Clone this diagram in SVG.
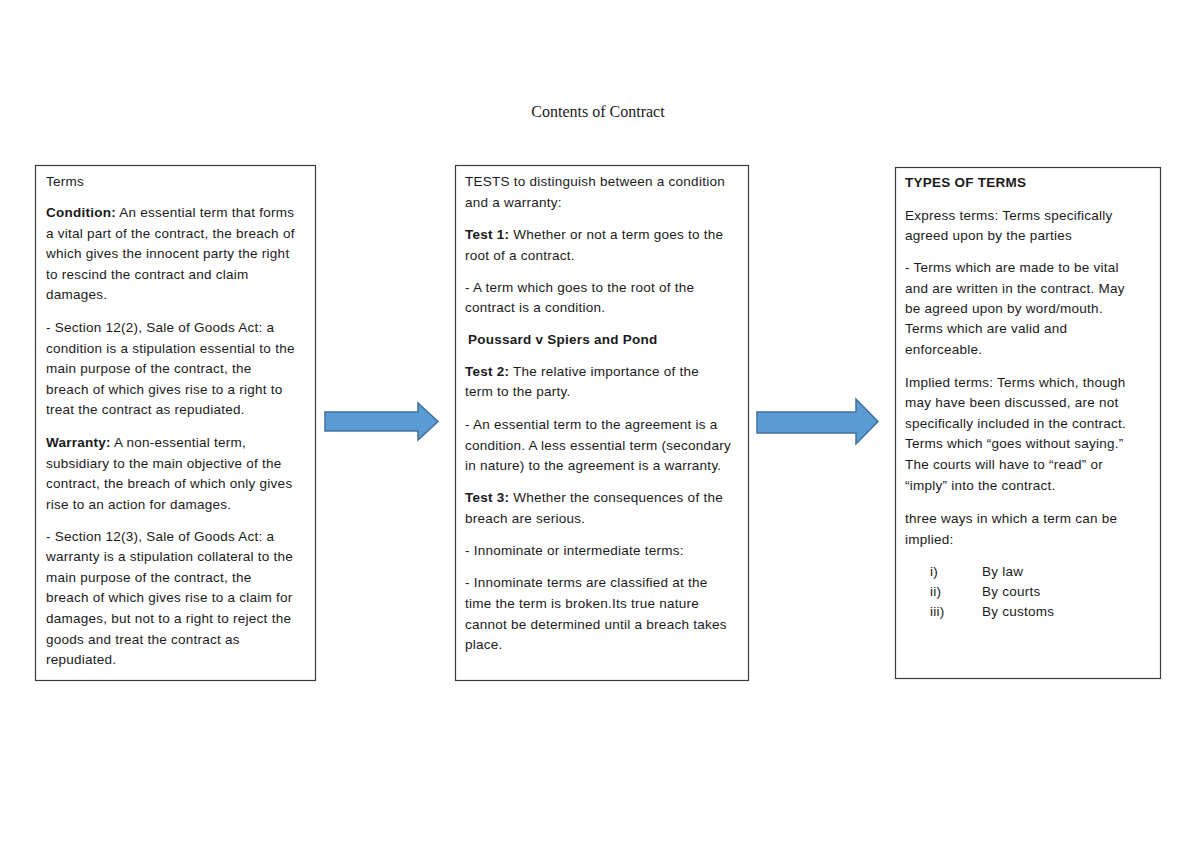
<svg xmlns="http://www.w3.org/2000/svg" width="1200" height="848" viewBox="0 0 1200 848">
<style>
.box{fill:#fff;stroke:#3a3a3a;stroke-width:1.2}
.t{font-family:"Liberation Sans",Arial,sans-serif;font-size:13.5px;letter-spacing:0.25px;fill:#1a1a1a}
.b{font-weight:bold}
.title{font-family:"Liberation Serif","Times New Roman",serif;font-size:16px;fill:#1a1a1a}
.arr{fill:#5B9BD5;stroke:#41719C;stroke-width:1.5}
</style>
<rect width="1200" height="848" fill="#fff"/>
<text class="title" x="598" y="117" text-anchor="middle">Contents of Contract</text>

<g id="terms">
<rect class="box" x="35.5" y="165.5" width="280" height="515"/>
<text class="t">
<tspan x="46" y="186">Terms</tspan>
<tspan x="46" y="217"><tspan class="b">Condition:</tspan> An essential term that forms</tspan>
<tspan x="46" y="238">a vital part of the contract, the breach of</tspan>
<tspan x="46" y="258">which gives the innocent party the right</tspan>
<tspan x="46" y="279">to rescind the contract and claim</tspan>
<tspan x="46" y="299">damages.</tspan>
<tspan x="46" y="332">- Section 12(2), Sale of Goods Act: a</tspan>
<tspan x="46" y="353">condition is a stipulation essential to the</tspan>
<tspan x="46" y="373">main purpose of the contract, the</tspan>
<tspan x="46" y="394">breach of which gives rise to a right to</tspan>
<tspan x="46" y="414">treat the contract as repudiated.</tspan>
<tspan x="46" y="447"><tspan class="b">Warranty:</tspan> A non-essential term,</tspan>
<tspan x="46" y="468">subsidiary to the main objective of the</tspan>
<tspan x="46" y="488">contract, the breach of which only gives</tspan>
<tspan x="46" y="509">rise to an action for damages.</tspan>
<tspan x="46" y="541">- Section 12(3), Sale of Goods Act: a</tspan>
<tspan x="46" y="561">warranty is a stipulation collateral to the</tspan>
<tspan x="46" y="582">main purpose of the contract, the</tspan>
<tspan x="46" y="602">breach of which gives rise to a claim for</tspan>
<tspan x="46" y="623">damages, but not to a right to reject the</tspan>
<tspan x="46" y="644">goods and treat the contract as</tspan>
<tspan x="46" y="664">repudiated.</tspan>
</text>
</g>

<g id="tests">
<rect class="box" x="455.5" y="165.5" width="293" height="515"/>
<text class="t">
<tspan x="465" y="186">TESTS to distinguish between a condition</tspan>
<tspan x="465" y="207">and a warranty:</tspan>
<tspan x="465" y="239"><tspan class="b">Test 1:</tspan> Whether or not a term goes to the</tspan>
<tspan x="465" y="260">root of a contract.</tspan>
<tspan x="465" y="292">- A term which goes to the root of the</tspan>
<tspan x="465" y="312">contract is a condition.</tspan>
<tspan x="468" y="344" class="b">Poussard v Spiers and Pond</tspan>
<tspan x="465" y="376"><tspan class="b">Test 2:</tspan> The relative importance of the</tspan>
<tspan x="465" y="396">term to the party.</tspan>
<tspan x="465" y="429">- An essential term to the agreement is a</tspan>
<tspan x="465" y="450">condition. A less essential term (secondary</tspan>
<tspan x="465" y="470">in nature) to the agreement is a warranty.</tspan>
<tspan x="465" y="502"><tspan class="b">Test 3:</tspan> Whether the consequences of the</tspan>
<tspan x="465" y="523">breach are serious.</tspan>
<tspan x="465" y="555">- Innominate or intermediate terms:</tspan>
<tspan x="465" y="587">- Innominate terms are classified at the</tspan>
<tspan x="465" y="608">time the term is broken.Its true nature</tspan>
<tspan x="465" y="629">cannot be determined until a breach takes</tspan>
<tspan x="465" y="649">place.</tspan>
</text>
</g>

<g id="types">
<rect class="box" x="895.5" y="167.5" width="265" height="511"/>
<text class="t">
<tspan x="905" y="187" class="b">TYPES OF TERMS</tspan>
<tspan x="905" y="220">Express terms: Terms specifically</tspan>
<tspan x="905" y="240">agreed upon by the parties</tspan>
<tspan x="905" y="272">- Terms which are made to be vital</tspan>
<tspan x="905" y="293">and are written in the contract.  May</tspan>
<tspan x="905" y="313">be agreed upon by word/mouth.</tspan>
<tspan x="905" y="333">Terms which are valid and</tspan>
<tspan x="905" y="354">enforceable.</tspan>
<tspan x="905" y="387">Implied terms: Terms which, though</tspan>
<tspan x="905" y="407">may have been discussed, are not</tspan>
<tspan x="905" y="428">specifically included in the contract.</tspan>
<tspan x="905" y="448">Terms which “goes without saying.”</tspan>
<tspan x="905" y="469">The courts will have to “read” or</tspan>
<tspan x="905" y="490">“imply” into the contract.</tspan>
<tspan x="905" y="523">three ways in which a term can be</tspan>
<tspan x="905" y="544">implied:</tspan>
<tspan x="930" y="576">i)</tspan><tspan x="982" y="576">By law</tspan>
<tspan x="930" y="596">ii)</tspan><tspan x="982" y="596">By courts</tspan>
<tspan x="930" y="616">iii)</tspan><tspan x="982" y="616">By customs</tspan>
</text>
</g>

<g id="connectors">
<path class="arr" d="M325,412 H418 V403 L438,421.5 L418,440 V431 H325 Z"/>
<path class="arr" d="M757,412 H856 V399 L878,421.5 L856,444 V433 H757 Z"/>
</g>
</svg>
